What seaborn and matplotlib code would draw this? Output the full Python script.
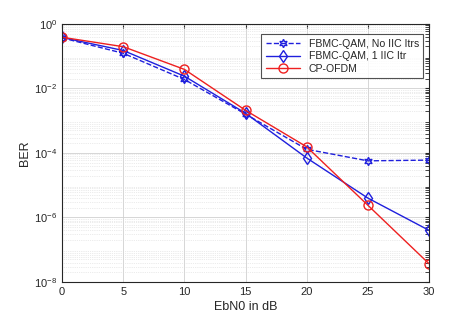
import seaborn as sns
import matplotlib.pyplot as plt
import pandas as pd
from matplotlib.ticker import NullLocator

# values
ebn0 = [0, 5, 10, 15, 20, 25, 30]
ber_no_iic = [0.37, 0.123, 0.019, 1.6e-3, 1.3e-4, 5.7e-5, 6.0e-5]
ber_1_iic = [0.38, 0.15, 0.024, 1.7e-3, 7.0e-5, 4.0e-6, 4.0e-7]
ber_ofdm = [0.386, 0.197, 0.039, 2.1e-3, 1.55e-4, 2.4e-6, 3.7e-8]
labels = ["FBMC-QAM, No IIC Itrs", "FBMC-QAM, 1 IIC Itr", "CP-OFDM"]

df = pd.DataFrame({"EbN0": ebn0, labels[0]: ber_no_iic,
                   labels[1]: ber_1_iic, labels[2]: ber_ofdm})

sns.set_style("white")
plt.rcParams['font.family'] = ['Liberation Sans', 'DejaVu Sans']

fig = plt.figure(figsize=(4.74, 3.19), dpi=100)
ax = fig.add_axes([0.131, 0.116, 0.774, 0.809])

sns.lineplot(data=df, x="EbN0", y=labels[0], ax=ax, color="#1f1fdd", linestyle="--",
             marker=(6, 1, 0), markersize=6, markerfacecolor="none",
             markeredgecolor="#1f1fdd", markeredgewidth=1, linewidth=1, label=labels[0])
sns.lineplot(data=df, x="EbN0", y=labels[1], ax=ax, color="#1f1fdd",
             marker="d", markersize=6.5, markerfacecolor="none",
             markeredgecolor="#1f1fdd", markeredgewidth=1, linewidth=1, label=labels[1])
sns.lineplot(data=df, x="EbN0", y=labels[2], ax=ax, color="#ee2020",
             marker="o", markersize=6.5, markerfacecolor="none",
             markeredgecolor="#ee2020", markeredgewidth=1, linewidth=1, label=labels[2])

ax.set_yscale("log")
ax.set_xlim(0, 30)
ax.set_ylim(1e-8, 1)
ax.set_xticks([0, 5, 10, 15, 20, 25, 30])
ax.set_yticks([1e-8, 1e-6, 1e-4, 1e-2, 1])
ax.xaxis.set_minor_locator(NullLocator())
ax.grid(True, which="major", color="#d0d0d0", linewidth=0.6)
ax.grid(True, which="minor", axis="y", color="#d8d8d8", linewidth=0.5, linestyle=":")
ax.tick_params(axis="both", which="both", direction="in", labelsize=8,
               colors="#262626", top=True, right=True, length=3)
for s in ax.spines.values():
    s.set_color("#262626")
    s.set_linewidth(0.8)

ax.set_xlabel("EbN0 in dB", fontsize=9, color="#262626", labelpad=3)
ax.set_ylabel("BER", fontsize=9, color="#262626", labelpad=2)

leg = ax.legend(loc="upper right", fontsize=7.6, frameon=True, fancybox=False,
                edgecolor="#262626", handlelength=3.3, borderpad=0.4,
                labelspacing=0.25, bbox_to_anchor=(0.999, 0.98))
leg.get_frame().set_linewidth(0.8)

fig.savefig("out.png", dpi=100)
